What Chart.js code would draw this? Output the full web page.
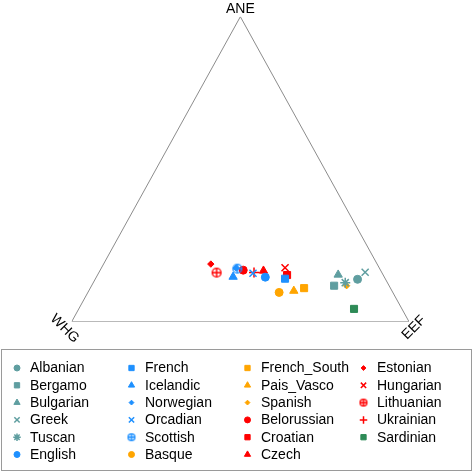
<!DOCTYPE html>
<html>
<head>
<meta charset="utf-8">
<script src="https://cdn.jsdelivr.net/npm/chart.js@4/dist/chart.umd.min.js"></script>
<style>
  body { margin: 0; background: #fff; }
  canvas { display: block; }
</style>
</head>
<body>
<canvas id="chart" width="474" height="474"></canvas>
<script>
// ternary ancestry proportions (WHG + ANE + EEF = 1)
const populations = ['Albanian', 'Bergamo', 'Bulgarian', 'Greek', 'Tuscan', 'English',
  'French', 'Icelandic', 'Norwegian', 'Orcadian', 'Scottish', 'Basque',
  'French_South', 'Pais_Vasco', 'Spanish', 'Belorussian', 'Croatian', 'Czech',
  'Estonian', 'Hungarian', 'Lithuanian', 'Ukrainian', 'Sardinian'];
const whg = [0.083, 0.163, 0.133, 0.049, 0.125, 0.353, 0.297, 0.448, 0.424, 0.383, 0.422, 0.337,
  0.256, 0.291, 0.126, 0.407, 0.285, 0.348, 0.493, 0.279, 0.490, 0.379, 0.142];
const ane = [0.139, 0.118, 0.154, 0.162, 0.128, 0.146, 0.141, 0.147, 0.176, 0.159, 0.174, 0.096,
  0.110, 0.101, 0.118, 0.169, 0.153, 0.167, 0.189, 0.177, 0.161, 0.161, 0.042];
const eef = [0.778, 0.719, 0.713, 0.789, 0.747, 0.501, 0.562, 0.405, 0.400, 0.458, 0.404, 0.567,
  0.634, 0.608, 0.756, 0.424, 0.562, 0.485, 0.318, 0.544, 0.349, 0.460, 0.816];
const corners = ['WHG', 'ANE', 'EEF'];

// styles
const TEAL = '#5F9EA0', BLUE = '#1E90FF', ORANGE = '#FFA500', RED = '#FF0000', GREEN = '#2E8B57';
const colors = [TEAL, TEAL, TEAL, TEAL, TEAL, BLUE, BLUE, BLUE, BLUE, BLUE, BLUE, ORANGE,
  ORANGE, ORANGE, ORANGE, RED, RED, RED, RED, RED, RED, RED, GREEN];
const shapes = ['circle', 'rect', 'triangle', 'crossRot', 'star', 'circle', 'rect', 'triangle',
  'rectRot', 'crossRot', 'oplus', 'circle', 'rect', 'triangle', 'rectRot', 'circle', 'rect',
  'triangle', 'rectRot', 'crossRot', 'oplus', 'cross', 'rect'];

const FONT = '"Liberation Sans", Arial, sans-serif';

function oplus(color, r) {
  const s = Math.ceil(2 * r + 3);
  const m = s / 2;
  const c = document.createElement('canvas');
  c.width = c.height = s;
  const g = c.getContext('2d');
  g.strokeStyle = color;
  g.lineWidth = 1.4;
  g.beginPath();
  g.arc(m, m, r, 0, 2 * Math.PI);
  g.moveTo(m - r, m); g.lineTo(m + r, m);
  g.moveTo(m, m - r); g.lineTo(m, m + r);
  g.stroke();
  return c;
}

function isLine(shape) {
  return shape === 'crossRot' || shape === 'cross' || shape === 'star';
}

function radiusFor(shape) {
  if (shape === 'rectRot') return 3.2;
  if (shape === 'triangle') return 4.8;
  if (shape === 'rect') return 5;
  if (isLine(shape)) return 5;
  return 4;
}

// ternary -> cartesian (x along base, y = ANE share)
function tern(w, a, e) {
  return { x: e + a / 2, y: a };
}

const datasets = populations.map((name, i) => {
  const style = shapes[i] === 'oplus' ? oplus(colors[i], 4.4) : shapes[i];
  return {
    label: name,
    data: [tern(whg[i], ane[i], eef[i])],
    pointStyle: style,
    pointRadius: radiusFor(shapes[i]),
    pointHoverRadius: radiusFor(shapes[i]),
    backgroundColor: colors[i],
    borderColor: colors[i],
    pointBorderWidth: isLine(shapes[i]) ? 1.5 : 1
  };
});

const cornerPts = [[1, 0, 0], [0, 1, 0], [0, 0, 1], [1, 0, 0]];
datasets.push({
  label: 'frame',
  data: cornerPts.map(p => tern(p[0], p[1], p[2])),
  showLine: true,
  borderColor: '#8c8c8c',
  borderWidth: 1,
  pointRadius: 0,
  order: 100
});

const ternaryDecor = {
  id: 'ternaryDecor',
  afterDraw(chart) {
    const ctx = chart.ctx;
    const xs = chart.scales.x, ys = chart.scales.y;
    ctx.save();
    ctx.fillStyle = '#000';
    ctx.font = '14px ' + FONT;
    ctx.textAlign = 'center';
    ctx.textBaseline = 'middle';
    // corner labels
    const top = { x: xs.getPixelForValue(0.5), y: ys.getPixelForValue(1) };
    ctx.fillText(corners[1], top.x, top.y - 7.5);
    const bl = { x: xs.getPixelForValue(0), y: ys.getPixelForValue(0) };
    ctx.save();
    ctx.translate(bl.x - 7, bl.y + 7);
    ctx.rotate(Math.PI / 4);
    ctx.fillText(corners[0], 0, 0);
    ctx.restore();
    const br = { x: xs.getPixelForValue(1), y: ys.getPixelForValue(0) };
    ctx.save();
    ctx.translate(br.x + 5, br.y + 6);
    ctx.rotate(-Math.PI / 4);
    ctx.fillText(corners[2], 0, 0);
    ctx.restore();

    // legend box
    ctx.strokeStyle = '#9a9a9a';
    ctx.lineWidth = 1;
    ctx.strokeRect(1.5, 349.5, 470, 121);
    const colMarker = [17, 131.5, 247.5, 363.5];
    const colText = [30, 145, 261, 377];
    ctx.textAlign = 'left';
    populations.forEach((name, i) => {
      const col = Math.floor(i / 6), row = i % 6;
      const y = 368 + row * 17.3;
      const ds = chart.data.datasets[i];
      const r = radiusFor(shapes[i]) * 0.75;
      ctx.fillStyle = colors[i];
      ctx.strokeStyle = colors[i];
      ctx.lineWidth = ds.pointBorderWidth;
      Chart.helpers.drawPoint(ctx, {
        pointStyle: shapes[i] === 'oplus' ? oplus(colors[i], 3.4) : shapes[i],
        radius: r,
        rotation: 0,
        borderWidth: ds.pointBorderWidth
      }, colMarker[col], y);
      ctx.fillStyle = '#000';
      ctx.fillText(name, colText[col], y + 0.5);
    });
    ctx.restore();
  }
};

new Chart(document.getElementById('chart'), {
  type: 'scatter',
  data: { datasets: datasets },
  options: {
    responsive: false,
    animation: false,
    layout: { padding: { left: 71.7, right: 65, top: 16.7, bottom: 152.3 } },
    scales: {
      x: { type: 'linear', min: 0, max: 1, display: false },
      y: { type: 'linear', min: 0, max: 1, display: false }
    },
    plugins: {
      legend: { display: false },
      tooltip: { enabled: false }
    }
  },
  plugins: [ternaryDecor]
});
</script>
</body>
</html>
